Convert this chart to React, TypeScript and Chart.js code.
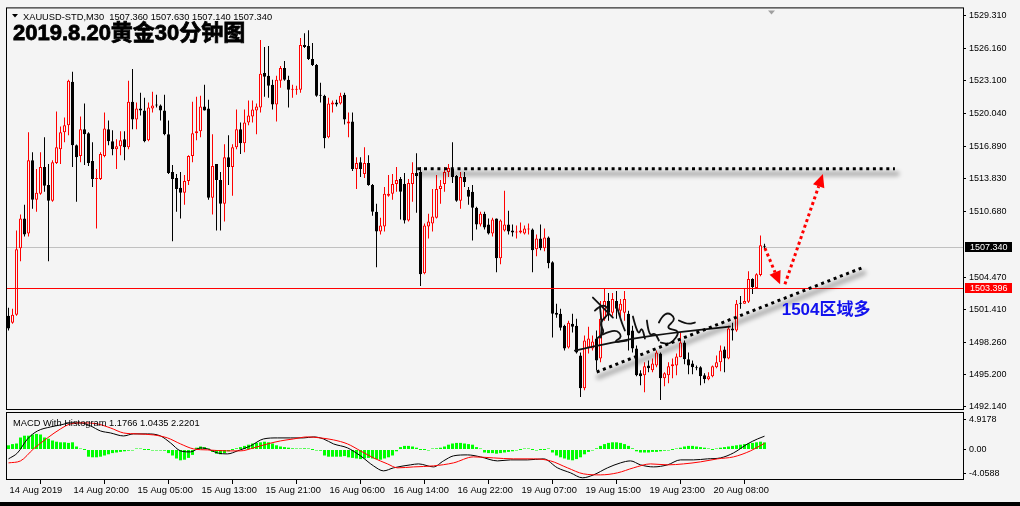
import React, { useEffect, useRef } from "react";
import { Chart, registerables } from "chart.js";

Chart.register(...registerables);

const FONT = "'Liberation Sans', Arial, sans-serif";
const CJK_BOLD = "'Liberation Sans', 'Noto Sans CJK SC', sans-serif";
const BG = "#f4f4f4";
const BULL = "#ff0000";
const BEAR = "#000000";

// ---- texts ----
const symbolName = "XAUUSD-STD,M30";
const lastQuote = ["1507.360", "1507.630", "1507.140", "1507.340"];
const titleText = "2019.8.20黄金30分钟图";
const noteText = "1504区域多";
const macdTitle = "MACD With Histogram";
const macdLegendValues = ["1.1766", "1.0435", "2.2201"];

// ---- OHLC, 30-minute bars (bar 1 = 14 Aug 12:00) ----
const opens = [
  1500.80, 1500.14, 1500.89, 1507.20, 1510.02, 1508.61, 1515.57, 1511.81, 1512.37, 1514.91,
  1513.22, 1511.71, 1515.29, 1516.61, 1518.21, 1518.87, 1523.01, 1516.98, 1515.95, 1518.49,
  1518.11, 1515.48, 1513.78, 1513.78, 1515.95, 1518.49, 1517.36, 1516.61, 1516.89, 1517.55,
  1516.80, 1521.12, 1519.43, 1520.47, 1520.28, 1517.45, 1520.47, 1520.84, 1520.75, 1520.28,
  1518.02, 1514.44, 1513.88, 1512.94, 1512.47, 1513.60, 1515.95, 1518.11, 1518.30, 1520.65,
  1520.47, 1512.00, 1515.20, 1513.69, 1511.43, 1515.85, 1514.91, 1516.80, 1518.49, 1517.17,
  1519.15, 1519.71, 1520.28, 1520.56, 1523.85, 1523.57, 1522.72, 1520.84, 1523.10, 1524.32,
  1523.19, 1522.25, 1522.25, 1522.25, 1526.49, 1526.39, 1525.17, 1524.61, 1521.78, 1521.69,
  1517.74, 1520.84, 1521.03, 1520.94, 1521.78, 1519.05, 1519.24, 1514.73, 1515.38, 1514.25,
  1515.29, 1513.22, 1510.68, 1508.80, 1509.27, 1512.18, 1512.37, 1513.31, 1513.78, 1513.31,
  1509.83, 1513.31, 1514.35, 1514.44, 1504.84, 1509.27, 1509.55, 1510.11, 1512.84, 1513.31,
  1514.44, 1514.73, 1514.07, 1511.71, 1513.97, 1512.75, 1512.56, 1511.06, 1509.46, 1510.49,
  1509.46, 1508.61, 1510.02, 1506.26, 1508.89, 1509.46, 1508.89, 1508.70, 1508.70, 1508.61,
  1508.99, 1508.99, 1507.10, 1508.14, 1507.20, 1508.23, 1505.88, 1501.08, 1500.99, 1499.86,
  1497.79, 1500.05, 1499.86, 1497.03, 1493.93, 1497.79, 1497.69, 1498.63, 1496.75, 1500.52,
  1502.21, 1501.08, 1502.21, 1501.27, 1501.08, 1500.99, 1499.39, 1497.69, 1495.34, 1495.15,
  1496.09, 1495.62, 1496.09, 1497.22, 1494.87, 1495.15, 1496.00, 1496.09, 1496.85, 1498.26,
  1496.66, 1496.28, 1495.91, 1495.91, 1495.15, 1494.78, 1495.06, 1495.91, 1496.38, 1497.60,
  1496.75, 1499.58, 1499.39, 1502.02, 1501.93, 1502.12, 1504.28, 1503.43, 1504.66, 1507.36,
];
const highs = [
  1501.55, 1501.46, 1508.89, 1510.40, 1511.34, 1518.21, 1516.32, 1514.73, 1516.32, 1517.74,
  1515.20, 1515.57, 1520.18, 1518.77, 1519.62, 1523.19, 1523.95, 1517.05, 1519.71, 1520.94,
  1518.21, 1517.27, 1514.73, 1516.32, 1520.09, 1519.34, 1518.40, 1517.55, 1518.30, 1518.30,
  1523.10, 1524.23, 1521.03, 1521.97, 1521.50, 1521.03, 1522.07, 1521.78, 1520.84, 1521.78,
  1519.34, 1515.10, 1514.25, 1514.44, 1514.16, 1516.04, 1521.12, 1521.59, 1521.69, 1522.72,
  1521.31, 1518.02, 1515.20, 1514.44, 1517.08, 1517.92, 1517.08, 1520.37, 1519.15, 1520.37,
  1521.22, 1521.22, 1520.94, 1526.96, 1526.30, 1526.39, 1523.19, 1523.57, 1524.51, 1524.98,
  1523.57, 1522.72, 1522.63, 1527.15, 1527.62, 1527.90, 1526.68, 1524.70, 1522.91, 1521.78,
  1521.50, 1521.22, 1521.31, 1521.97, 1521.97, 1520.09, 1520.09, 1515.85, 1515.85, 1516.80,
  1516.04, 1513.31, 1511.43, 1510.11, 1513.03, 1514.16, 1514.25, 1514.91, 1513.97, 1514.35,
  1513.78, 1515.38, 1516.23, 1514.91, 1509.55, 1510.49, 1512.84, 1514.16, 1513.69, 1514.91,
  1515.20, 1517.27, 1514.16, 1514.44, 1514.44, 1513.03, 1513.22, 1511.15, 1510.68, 1510.68,
  1510.02, 1510.11, 1510.02, 1509.93, 1512.66, 1510.77, 1509.46, 1509.36, 1509.64, 1509.36,
  1509.55, 1509.08, 1508.51, 1509.46, 1509.08, 1508.33, 1505.97, 1501.93, 1501.46, 1499.95,
  1500.33, 1500.99, 1500.52, 1497.32, 1498.92, 1499.76, 1498.92, 1499.39, 1502.21, 1503.34,
  1502.96, 1502.96, 1503.15, 1502.40, 1503.15, 1501.27, 1499.86, 1497.98, 1495.62, 1496.38,
  1496.56, 1496.75, 1497.50, 1497.32, 1495.43, 1496.38, 1496.75, 1497.22, 1499.20, 1498.45,
  1497.32, 1496.56, 1496.09, 1496.00, 1495.34, 1495.43, 1496.09, 1497.03, 1497.98, 1497.88,
  1499.86, 1500.14, 1502.30, 1502.68, 1503.34, 1505.03, 1504.37, 1504.84, 1508.42, 1507.63,
];
const lows = [
  1499.39, 1500.05, 1500.80, 1505.97, 1508.33, 1508.33, 1510.96, 1510.68, 1512.28, 1512.56,
  1505.97, 1511.62, 1515.20, 1515.20, 1517.27, 1517.92, 1514.91, 1511.62, 1515.38, 1515.10,
  1515.01, 1513.03, 1509.08, 1513.69, 1515.85, 1516.98, 1516.04, 1514.73, 1516.04, 1515.57,
  1516.61, 1518.49, 1518.49, 1519.81, 1517.27, 1517.36, 1520.09, 1520.56, 1519.34, 1517.92,
  1514.25, 1507.86, 1510.68, 1510.02, 1511.34, 1513.22, 1515.38, 1517.45, 1517.74, 1520.28,
  1511.81, 1510.40, 1508.89, 1508.89, 1509.74, 1513.22, 1512.18, 1516.61, 1516.14, 1516.32,
  1518.87, 1519.15, 1518.02, 1520.09, 1521.59, 1521.50, 1520.37, 1519.24, 1522.44, 1523.10,
  1520.56, 1521.50, 1521.78, 1521.97, 1526.20, 1525.08, 1524.51, 1521.59, 1521.03, 1516.70,
  1517.64, 1520.09, 1520.65, 1520.84, 1518.96, 1517.74, 1514.54, 1512.84, 1513.97, 1513.88,
  1513.13, 1510.30, 1505.41, 1508.51, 1508.80, 1512.09, 1511.81, 1512.56, 1509.93, 1509.55,
  1509.74, 1511.62, 1510.58, 1503.62, 1504.75, 1508.14, 1508.80, 1510.02, 1511.43, 1512.56,
  1513.97, 1513.41, 1511.62, 1510.96, 1513.03, 1511.34, 1507.95, 1508.99, 1509.27, 1508.99,
  1508.51, 1508.33, 1504.94, 1505.69, 1508.80, 1508.51, 1508.33, 1508.14, 1508.61, 1508.51,
  1508.51, 1504.94, 1506.44, 1507.01, 1506.91, 1505.32, 1498.73, 1500.61, 1499.39, 1497.50,
  1497.69, 1499.20, 1497.22, 1493.08, 1493.74, 1497.22, 1497.50, 1495.62, 1496.38, 1500.33,
  1500.33, 1500.80, 1500.52, 1500.52, 1500.33, 1497.50, 1497.32, 1495.06, 1494.21, 1493.55,
  1495.43, 1495.43, 1495.91, 1492.80, 1494.12, 1494.40, 1494.87, 1495.15, 1496.85, 1496.19,
  1495.25, 1495.25, 1495.62, 1494.21, 1494.40, 1494.68, 1494.96, 1495.81, 1495.53, 1495.43,
  1496.66, 1498.45, 1499.29, 1501.46, 1501.93, 1502.02, 1502.87, 1503.43, 1504.56, 1507.14,
];
const closes = [
  1499.58, 1500.89, 1507.10, 1510.02, 1508.51, 1515.57, 1511.81, 1512.47, 1514.91, 1513.13,
  1511.71, 1515.38, 1516.80, 1518.21, 1518.87, 1523.10, 1516.98, 1515.85, 1518.49, 1518.02,
  1515.29, 1513.78, 1513.88, 1516.14, 1518.58, 1517.36, 1516.61, 1516.89, 1517.45, 1516.80,
  1521.12, 1519.43, 1520.47, 1520.28, 1517.36, 1520.56, 1520.75, 1520.75, 1520.28, 1518.02,
  1514.35, 1513.78, 1512.84, 1512.47, 1513.60, 1515.95, 1518.11, 1518.30, 1520.65, 1520.28,
  1512.00, 1515.01, 1513.69, 1511.43, 1515.85, 1514.91, 1516.80, 1518.49, 1517.17, 1519.15,
  1519.81, 1520.37, 1520.65, 1523.76, 1523.48, 1522.63, 1520.84, 1523.19, 1524.32, 1523.19,
  1522.25, 1522.35, 1522.35, 1526.49, 1526.30, 1525.17, 1524.61, 1521.69, 1521.69, 1517.64,
  1520.94, 1521.03, 1520.84, 1521.69, 1519.43, 1519.24, 1514.73, 1515.29, 1514.73, 1515.29,
  1513.22, 1510.68, 1508.80, 1509.36, 1512.37, 1512.37, 1513.31, 1513.69, 1512.56, 1509.83,
  1513.41, 1514.35, 1514.07, 1504.75, 1509.36, 1509.74, 1510.21, 1512.84, 1513.13, 1514.44,
  1514.82, 1513.97, 1511.71, 1513.97, 1513.50, 1512.09, 1511.06, 1509.46, 1510.49, 1509.17,
  1508.61, 1509.93, 1506.26, 1509.83, 1509.46, 1508.80, 1508.70, 1508.80, 1508.89, 1509.08,
  1509.08, 1507.01, 1508.14, 1507.20, 1508.23, 1505.79, 1500.99, 1500.89, 1499.67, 1497.69,
  1500.14, 1499.76, 1497.32, 1493.93, 1498.45, 1498.63, 1498.35, 1496.56, 1500.52, 1502.21,
  1501.08, 1502.40, 1501.46, 1501.93, 1502.40, 1498.92, 1497.69, 1495.15, 1495.06, 1496.00,
  1495.81, 1496.28, 1497.32, 1494.87, 1495.34, 1496.00, 1496.19, 1496.94, 1498.26, 1496.66,
  1496.09, 1495.91, 1495.81, 1495.06, 1494.78, 1495.06, 1496.00, 1496.38, 1497.50, 1496.75,
  1499.58, 1499.39, 1501.93, 1501.93, 1502.21, 1504.28, 1503.53, 1504.75, 1507.48, 1507.34,
];

// ---- MACD panel ----
const histValues = [
  0.7, 0.9, 1.0, 2.0, 2.3, 2.3, 2.5, 2.6, 2.5, 2.0,
  1.8, 1.5, 1.3, 1.2, 1.2, 1.1, 1.2, 0.5, 0.1, 0,
  -1.2, -1.3, -1.3, -1.2, -1.0, -0.8, -0.6, -0.5, -0.4, -0.3,
  -0.2, -0.1, 0.1, 0.1, 0, 0, -0.1, -0.1, -0.1, -0.2,
  -0.6, -1.0, -1.5, -1.8, -1.7, -1.4, -0.9, 0.3, 0.5, 0.4,
  0.1, -0.4, -0.7, -0.8, -0.6, -0.3, 0, 0.2, 0.4, 0.6,
  0.8, 1.0, 1.1, 1.2, 1.3, 1.2, 1.0, 0.7, 0.5, 0.4,
  0.3, 0.2, 0.1, 0.1, 0.2, 0.1, 0, -0.1, -0.2, -1.0,
  -1.2, -1.2, -1.2, -1.2, -1.1, -1.3, -1.4, -1.5, -1.6, -1.5,
  -1.4, -1.5, -1.6, -1.7, -1.5, -1.3, -1.0, -0.3, 0.4, 0.6,
  0.6, 0.5, 0.3, 0, 0, -0.1, 0.1, 0.2, 0.3, 0.5,
  0.8, 1.0, 1.1, 1.1, 1.0, 0.9, 0.8, 0.4, 0.1, -0.5,
  -0.6, -0.6, -0.7, -0.6, -0.5, -0.4, -0.3, -0.1, 0, 0.1,
  0.1, 0, -0.1, 0, 0, 0.1, -0.5, -1.0, -1.3, -1.5,
  -1.7, -1.8, -1.6, -1.3, -0.8, -0.4, -0.1, 0.2, 0.6, 0.9,
  1.1, 1.2, 1.2, 1.1, 0.9, 0.6, 0.2, -0.3, -0.5, -0.5,
  -0.5, -0.4, -0.4, -0.3, -0.2, -0.1, 0, 0.1, 0.3, 0.5,
  0.6, 0.6, 0.5, 0.4, 0.3, 0.1, 0, 0.1, 0.3, 0.4,
  0.5, 0.6, 0.7, 0.8, 0.9, 1.0, 1.1, 1.2, 1.3, 1.18,
];
const macdBars = [
  1, 3.25, 5.75, 8.25, 11.5, 14, 16.5, 19, 21.5, 24, 26.5, 29.75, 32.25, 35.75, 39, 41.5, 44,
  46.5, 49, 50.75, 53.25, 55.75, 58.25, 61.5, 64.75, 68.25, 71.5, 74.75, 77.25, 79.75, 82.25,
  85.75, 89, 92.25, 94.75, 97.25, 101.5, 103.5, 107.25, 109.75, 112.25, 115.75, 119, 123.25,
  126.5, 130.75, 134.75, 138.25, 141.5, 144.5, 147.25, 150.75, 154, 156.5, 159, 162.25, 165.75,
  169, 172.25, 175.75, 179, 182.25, 185.75, 188.25, 190,
];
const macdValues = [
  -1.56, -0.57, 1.76, 3.09, 3.76, 4.09, 4.43, 4.43, 3.93, 3.09, 2.76, 2.26, 2.6, 2.6, 2.26, 1.1,
  -0.23, -0.4, 0.27, 0.1, -0.57, -0.73, -0.23, 0.6, 1.76, 1.93, 1.93, 1.93, 2.1, 1.76, 0.93, 0.27,
  -1.06, -2.73, -3.56, -3.06, -2.56, -2.4, -2.9, -1.9, -1.06, -0.9, -1.23, -1.9, -1.73, -1.73,
  -1.56, -3.06, -3.89, -4.72, -4.23, -3.06, -2.23, -1.9, -2.56, -2.9, -2.56, -1.73, -1.73, -1.56,
  -1.4, -0.57, 0.93, 1.76, 2.22,
];
const signalBars = [
  1, 4, 7.25, 10.75, 14, 16.5, 19.75, 23.25, 26.5, 29.75, 33.25, 37.25, 40.75, 44, 47.25, 50.75,
  55.75, 59, 62.25, 65.75, 69, 72.25, 75.75, 79, 82.25, 85.75, 89, 92.25, 95.75, 98.25, 102.25,
  107.25, 112.25, 117.25, 122.25, 127.25, 132.25, 136.5, 140.75, 144.75, 149, 153.25, 157.25,
  161.5, 165.75, 169.75, 174, 178.25, 182.25, 186.5, 190,
];
const signalValues = [
  -2.23, -1.9, 0.1, 1.93, 3.43, 4.26, 4.43, 4.26, 3.59, 2.76, 2.6, 2.43, 1.93, 0.93, 0.1, -0.07,
  -0.23, -0.23, 0.27, 0.93, 1.43, 1.76, 2.1, 1.93, 1.6, 0.93, -0.23, -1.4, -2.4, -3.06, -2.9,
  -2.73, -2.23, -1.23, -1.4, -1.56, -1.56, -1.9, -3.06, -4.06, -4.23, -3.89, -3.06, -2.4, -2.56,
  -2.4, -2.06, -1.56, -1.23, -0.23, 1.04,
];

// ---- axes ----
const timeTickBars = [1, 17, 33, 49, 65, 81, 97, 113, 129, 145, 161, 177];
const timeTickLabels = [
  "14 Aug 2019", "14 Aug 20:00", "15 Aug 05:00", "15 Aug 13:00", "15 Aug 21:00", "16 Aug 06:00",
  "16 Aug 14:00", "16 Aug 22:00", "19 Aug 07:00", "19 Aug 15:00", "19 Aug 23:00", "20 Aug 08:00",
];
const priceTicks = [
  1529.31, 1526.16, 1523.1, 1520.04, 1516.89, 1513.83, 1510.68, 1504.47, 1501.41, 1498.26,
  1495.2, 1492.14,
];
const bidPrice = 1507.34;
const alertPrice = 1503.396;
const macdTicks = [4.9178, 0, -4.0588];
const macdTickLabels = ["4.9178", "0.00", "-4.0588"];

// ---- hand-drawn annotations (bar index, price) ----
const resistanceLine = [{ bar: 103.2, price: 1514.75 }, { bar: 222.6, price: 1514.75 }];
const supportTrend = [{ bar: 148.05, price: 1495.46 }, { bar: 214.3, price: 1505.34 }];
const arrowDown = [{ bar: 190.1, price: 1507.22 }, { bar: 193.9, price: 1503.78 }];
const arrowUp = [{ bar: 195.1, price: 1503.78 }, { bar: 204.6, price: 1514.25 }];
const noteAnchor = { bar: 194.3, price: 1501.36 };
const shiftMarkerBar = 191.6;
// author's signature (watermark), anchored at a bar/price, strokes in pixel offsets
const signatureAnchor = { bar: 142.6, price: 1497.50 };
const signatureStrokes: number[][][] = [
  [[0, 0], [40, -9], [90, -17], [155, -24]],
  [[18, -53], [26, -45], [38, -33]],
  [[20, -40], [28, -48], [36, -38], [24, -28], [30, -18], [22, -12]],
  [[25, -44], [27, -28], [26, -13]],
  [[28, -16], [40, -22], [48, -14], [38, -8], [52, -10]],
  [[42, -44], [46, -30], [50, -20]],
  [[58, -34], [63, -14], [67, -24], [70, -12]],
  [[72, -30], [74, -14], [80, -18], [84, -10]],
  [[84, -28], [90, -40], [102, -32], [90, -22], [106, -20], [96, -6], [86, -8]],
  [[104, -30], [112, -26], [120, -28]],
];

// ---- layout ----
const W = 1020;
const H = 506;
const PLOT_L = 7;
const PLOT_R = 963;
const PRICE_T = 5;
const PRICE_B = 409;
const MACD_T = 413;
const MACD_B = 479;
const X_MIN = 0.625;
const X_MAX = 239.625;
const PRICE_MIN = 1491.95;
const PRICE_MAX = 1529.97;
const MACD_MIN = -4.917;
const MACD_MAX = 6.083;

const isBull = (i: number) => closes[i] >= opens[i];

function dottedSegment(ctx: CanvasRenderingContext2D, p: { x: number; y: number }[], color: string, width: number, dash: number[], shadow: boolean) {
  ctx.save();
  if (shadow) {
    ctx.save();
    ctx.filter = "blur(2px)";
    ctx.strokeStyle = "rgba(0,0,0,0.28)";
    ctx.lineWidth = 5;
    ctx.beginPath();
    ctx.moveTo(p[0].x + 2, p[0].y + 5);
    ctx.lineTo(p[1].x + 2, p[1].y + 5);
    ctx.stroke();
    ctx.restore();
  }
  ctx.strokeStyle = color;
  ctx.lineWidth = width;
  ctx.setLineDash(dash);
  ctx.lineCap = "butt";
  ctx.beginPath();
  ctx.moveTo(p[0].x, p[0].y);
  ctx.lineTo(p[1].x, p[1].y);
  ctx.stroke();
  ctx.restore();
}

function arrow(ctx: CanvasRenderingContext2D, a: { x: number; y: number }, b: { x: number; y: number }, color: string) {
  const ang = Math.atan2(b.y - a.y, b.x - a.x);
  const headLen = 13;
  const headW = 6;
  const bx = b.x - Math.cos(ang) * headLen;
  const by = b.y - Math.sin(ang) * headLen;
  dottedSegment(ctx, [a, { x: bx, y: by }], color, 3, [3, 3], false);
  ctx.save();
  ctx.fillStyle = color;
  ctx.beginPath();
  ctx.moveTo(b.x, b.y);
  ctx.lineTo(bx + Math.cos(ang + Math.PI / 2) * headW, by + Math.sin(ang + Math.PI / 2) * headW);
  ctx.lineTo(bx - Math.cos(ang + Math.PI / 2) * headW, by - Math.sin(ang + Math.PI / 2) * headW);
  ctx.closePath();
  ctx.fill();
  ctx.restore();
}

function smoothStroke(ctx: CanvasRenderingContext2D, pts: { x: number; y: number }[]) {
  ctx.beginPath();
  ctx.moveTo(pts[0].x, pts[0].y);
  if (pts.length === 2) {
    ctx.lineTo(pts[1].x, pts[1].y);
  } else {
    for (let i = 1; i < pts.length - 1; i++) {
      const mx = (pts[i].x + pts[i + 1].x) / 2;
      const my = (pts[i].y + pts[i + 1].y) / 2;
      ctx.quadraticCurveTo(pts[i].x, pts[i].y, mx, my);
    }
    const last = pts[pts.length - 1];
    ctx.lineTo(last.x, last.y);
  }
  ctx.stroke();
}

const priceDecor = {
  id: "priceDecor",
  beforeDatasetsDraw(chart: any) {
    const { ctx, chartArea: a, scales } = chart;
    const y = scales.y;
    ctx.save();
    ctx.lineWidth = 1;
    const yb = Math.round(y.getPixelForValue(bidPrice)) + 0.5;
    ctx.strokeStyle = "#c0c0c0";
    ctx.beginPath();
    ctx.moveTo(a.left, yb);
    ctx.lineTo(a.right, yb);
    ctx.stroke();
    ctx.restore();
  },
  afterDatasetsDraw(chart: any) {
    const { ctx, chartArea: a, scales } = chart;
    const x = scales.x;
    const y = scales.y;
    const pt = (q: { bar: number; price: number }) => ({ x: x.getPixelForValue(q.bar), y: y.getPixelForValue(q.price) });
    ctx.save();
    // alert line
    const ya = Math.round(y.getPixelForValue(alertPrice)) + 0.5;
    ctx.strokeStyle = "#ff0000";
    ctx.lineWidth = 1;
    ctx.beginPath();
    ctx.moveTo(a.left, ya);
    ctx.lineTo(a.right, ya);
    ctx.stroke();

    // signature watermark
    const s0 = pt(signatureAnchor);
    ctx.strokeStyle = "#111";
    ctx.lineWidth = 1.8;
    ctx.lineCap = "round";
    ctx.lineJoin = "round";
    signatureStrokes.forEach((st) => smoothStroke(ctx, st.map(([dx, dy]) => ({ x: s0.x + dx, y: s0.y + dy }))));

    dottedSegment(ctx, resistanceLine.map(pt), "#000", 3, [3, 3.7], true);
    dottedSegment(ctx, supportTrend.map(pt), "#000", 3, [3, 3.7], true);
    arrow(ctx, pt(arrowDown[0]), pt(arrowDown[1]), "#ff0000");
    arrow(ctx, pt(arrowUp[0]), pt(arrowUp[1]), "#ff0000");

    const n = pt(noteAnchor);
    ctx.fillStyle = "#1212ee";
    ctx.font = `bold 17px ${CJK_BOLD}`;
    ctx.textBaseline = "middle";
    ctx.textAlign = "left";
    ctx.fillText(noteText, n.x, n.y);

    // chart-shift marker
    const sx = Math.round(x.getPixelForValue(shiftMarkerBar)) + 0.5;
    ctx.fillStyle = "#a0a0a0";
    ctx.beginPath();
    ctx.moveTo(sx - 3.5, a.top + 2);
    ctx.lineTo(sx + 3.5, a.top + 2);
    ctx.lineTo(sx, a.top + 6);
    ctx.closePath();
    ctx.fill();
    ctx.restore();
  },
  afterDraw(chart: any) {
    const { ctx, chartArea: a, scales } = chart;
    const y = scales.y;
    ctx.save();
    // panel frame
    ctx.strokeStyle = "#000";
    ctx.lineWidth = 1;
    ctx.strokeRect(a.left - 0.5, a.top - 0.5, a.right - a.left + 1, a.bottom - a.top + 1);

    // price markers on the axis
    const marker = (v: number, bg: string, label: string) => {
      const py = Math.round(y.getPixelForValue(v));
      ctx.fillStyle = bg;
      ctx.fillRect(a.right + 2, py - 5, 47, 10);
      ctx.fillStyle = "#fff";
      ctx.font = `9px ${FONT}`;
      ctx.textBaseline = "middle";
      ctx.textAlign = "left";
      ctx.fillText(label, a.right + 7, py + 0.5);
    };
    marker(bidPrice, "#000", bidPrice.toFixed(3));
    marker(alertPrice, "#ff0000", alertPrice.toFixed(3));

    // header line
    ctx.fillStyle = "#000";
    ctx.beginPath();
    ctx.moveTo(12, 14);
    ctx.lineTo(18, 14);
    ctx.lineTo(15, 17.5);
    ctx.closePath();
    ctx.fill();
    ctx.font = `9.3px ${FONT}`;
    ctx.textBaseline = "alphabetic";
    ctx.textAlign = "left";
    ctx.fillText(`${symbolName}  ${lastQuote.join(" ")}`, 23, 19.5);

    // title
    ctx.font = `bold 22px ${CJK_BOLD}`;
    ctx.lineWidth = 0.8;
    ctx.strokeStyle = "#000";
    ctx.fillText(titleText, 13, 39.5);
    ctx.strokeText(titleText, 13, 39.5);
    ctx.restore();
  },
};

const macdDecor = {
  id: "macdDecor",
  afterDraw(chart: any) {
    const { ctx, chartArea: a } = chart;
    ctx.save();
    ctx.strokeStyle = "#000";
    ctx.lineWidth = 1;
    ctx.strokeRect(a.left - 0.5, a.top - 0.5, a.right - a.left + 1, a.bottom - a.top + 1);
    ctx.fillStyle = "#000";
    ctx.font = `9.3px ${FONT}`;
    ctx.textBaseline = "alphabetic";
    ctx.textAlign = "left";
    ctx.fillText(`${macdTitle} ${macdLegendValues.join(" ")}`, a.left + 6, a.top + 13);
    ctx.restore();
  },
};

export default function App() {
  const priceRef = useRef<HTMLCanvasElement>(null);
  const macdRef = useRef<HTMLCanvasElement>(null);

  useEffect(() => {
    Chart.defaults.font.family = FONT;
    const bars = opens.map((_, i) => i + 1);
    const bodies = bars.map((b, i) => ({ x: b, y: [Math.min(opens[i], closes[i]), Math.max(opens[i], closes[i])] }));
    const wicks = bars.map((b, i) => ({ x: b, y: [lows[i], highs[i]] }));

    const priceChart = new Chart(priceRef.current as HTMLCanvasElement, {
      type: "bar",
      data: {
        datasets: [
          {
            data: bodies as any,
            backgroundColor: bars.map((_, i) => (isBull(i) ? BG : BEAR)),
            borderColor: bars.map((_, i) => (isBull(i) ? BULL : BEAR)),
            borderWidth: 1,
            borderSkipped: false,
            barThickness: 3,
            minBarLength: 1,
            inflateAmount: 0,
            grouped: false,
            order: 0,
          } as any,
          {
            data: wicks as any,
            backgroundColor: bars.map((_, i) => (isBull(i) ? BULL : BEAR)),
            borderWidth: 0,
            barThickness: 1,
            minBarLength: 1,
            inflateAmount: 0,
            grouped: false,
            order: 1,
          } as any,
        ],
      },
      options: {
        animation: false,
        responsive: false,
        devicePixelRatio: 1,
        layout: { padding: { left: PLOT_L, top: PRICE_T, right: 0, bottom: H - PRICE_B } },
        plugins: { legend: { display: false }, tooltip: { enabled: false } },
        scales: {
          x: { type: "linear", min: X_MIN, max: X_MAX, offset: false, display: false },
          y: {
            position: "right",
            min: PRICE_MIN,
            max: PRICE_MAX,
            afterFit: (s: any) => { s.width = W - PLOT_R; },
            afterBuildTicks: (s: any) => { s.ticks = priceTicks.map((v) => ({ value: v })); },
            ticks: {
              autoSkip: false,
              color: "#000",
              padding: 3,
              font: { size: 9, family: FONT },
              callback: (v: any) => Number(v).toFixed(3),
            },
            grid: { drawOnChartArea: false, drawTicks: true, tickLength: 3, color: "#000" },
            border: { display: false },
          },
        },
      } as any,
      plugins: [priceDecor],
    });

    const macdChart = new Chart(macdRef.current as HTMLCanvasElement, {
      type: "bar",
      data: {
        datasets: [
          {
            type: "line",
            data: macdBars.map((b, i) => ({ x: b, y: macdValues[i] })),
            borderColor: "#000",
            borderWidth: 1,
            pointRadius: 0,
            cubicInterpolationMode: "monotone",
            order: 1,
          } as any,
          {
            type: "line",
            data: signalBars.map((b, i) => ({ x: b, y: signalValues[i] })),
            borderColor: "#ff0000",
            borderWidth: 1,
            pointRadius: 0,
            cubicInterpolationMode: "monotone",
            order: 0,
          } as any,
          {
            type: "bar",
            data: bars.map((b, i) => ({ x: b, y: histValues[i] })),
            backgroundColor: "#00ff00",
            borderWidth: 0,
            barThickness: 3,
            minBarLength: 1,
            inflateAmount: 0,
            grouped: false,
            order: 2,
          } as any,
        ],
      },
      options: {
        animation: false,
        responsive: false,
        devicePixelRatio: 1,
        layout: { padding: { left: PLOT_L, top: MACD_T, right: 0, bottom: 5 } },
        plugins: { legend: { display: false }, tooltip: { enabled: false } },
        scales: {
          x: {
            type: "linear",
            min: X_MIN,
            max: X_MAX,
            offset: false,
            afterFit: (s: any) => { s.height = H - MACD_B - 5; },
            afterBuildTicks: (s: any) => { s.ticks = timeTickBars.map((v) => ({ value: v })); },
            ticks: {
              autoSkip: false,
              maxRotation: 0,
              minRotation: 0,
              align: "start",
              labelOffset: 1,
              padding: 1,
              color: "#000",
              font: { size: 9.3, family: FONT },
              callback: (v: any) => {
                const k = timeTickBars.indexOf(Number(v));
                return k >= 0 ? timeTickLabels[k] : "";
              },
            },
            grid: { drawOnChartArea: false, drawTicks: true, tickLength: 5, color: "#000" },
            border: { display: false },
          },
          y: {
            position: "right",
            min: MACD_MIN,
            max: MACD_MAX,
            afterFit: (s: any) => { s.width = W - PLOT_R; },
            afterBuildTicks: (s: any) => { s.ticks = macdTicks.map((v) => ({ value: v })); },
            ticks: {
              autoSkip: false,
              color: "#000",
              padding: 3,
              font: { size: 9, family: FONT },
              callback: (_v: any, idx: number) => macdTickLabels[idx],
            },
            grid: { drawOnChartArea: false, drawTicks: true, tickLength: 3, color: "#000" },
            border: { display: false },
          },
        },
      } as any,
      plugins: [macdDecor],
    });

    return () => {
      priceChart.destroy();
      macdChart.destroy();
    };
  }, []);

  return (
    <div style={{ position: "absolute", left: 0, top: 0, width: W, height: H, background: BG, overflow: "hidden" }}>
      <canvas ref={priceRef} width={W} height={H} style={{ position: "absolute", left: 0, top: 0 }} />
      <canvas ref={macdRef} width={W} height={H} style={{ position: "absolute", left: 0, top: 0 }} />
      <div style={{ position: "absolute", left: 0, top: 502, width: W, height: 4, background: "#000" }} />
    </div>
  );
}
